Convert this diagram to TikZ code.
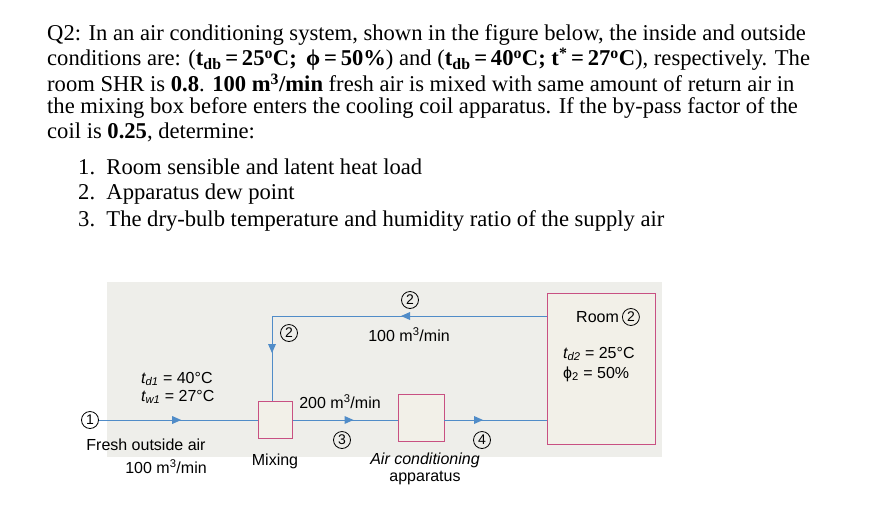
\documentclass[tikz,border=0pt]{standalone}
\usepackage{fontspec}
\setmainfont{Liberation Serif}
\newfontfamily\dsans{Liberation Sans}
\usetikzlibrary{decorations.markings}
\definecolor{flow}{RGB}{80,140,200}
\definecolor{boxc}{RGB}{200,80,130}
\definecolor{bfill}{RGB}{242,240,232}
\definecolor{bg}{RGB}{238,238,234}
\begin{document}
\begin{tikzpicture}[x=1pt,y=-1pt,
  flowline/.style={draw=flow,line width=0.9pt},
  midarrow/.style={postaction={decorate},decoration={markings,mark=at position #1 with {\fill[flow] (3,0)--(-6,-4)--(-6,4)--cycle;}}},
  unit/.style={draw=boxc,line width=1pt,fill=bfill},
  lab/.style={font=\dsans\fontsize{16}{17}\selectfont,inner sep=0pt},
  num/.style={circle,draw,line width=0.8pt,inner sep=0.8pt,minimum size=17pt,font=\dsans\fontsize{14}{14}\selectfont},
  qtext/.style={anchor=west,inner sep=0pt,font=\fontsize{22.6}{24}\selectfont}]
\useasboundingbox (0,0) rectangle (883,504);
\fill[white] (0,0) rectangle (883,504);
% question text
\node[qtext] (l1) at (47,35) {Q2: In an air conditioning system, shown in the figure below, the inside and outside};
\node[qtext] (l2) at (47,59) {conditions are: (\textbf{t\textsubscript{db}\,=\,25\textsuperscript{o}C;\, ϕ\,=\,50\%}) and (\textbf{t\textsubscript{db}\,=\,40\textsuperscript{o}C; t\textsuperscript{*}\,=\,27\textsuperscript{o}C}), respectively. The};
\node[qtext] (l3) at (47,83) {room SHR is \textbf{0.8}. \textbf{100 m\textsuperscript{3}/min} fresh air is mixed with same amount of return air in};
\node[qtext] (l4) at (47,108) {the mixing box before enters the cooling coil apparatus. If the by-pass factor of the};
\node[qtext] (l5) at (47,132) {coil is \textbf{0.25}, determine:};
\node[qtext] (i1) at (78,167) {1.\ \ Room sensible and latent heat load};
\node[qtext] (i2) at (78,194) {2.\ \ Apparatus dew point};
\node[qtext] (i3) at (78,221) {3.\ \ The dry-bulb temperature and humidity ratio of the supply air};
% background
\fill[bg] (107,282) rectangle (662,457);
% units
\node[unit,minimum width=34pt,minimum height=37pt,inner sep=0pt] (mix) at (275,420) {};
\node[unit,minimum width=46pt,minimum height=47pt,inner sep=0pt] (ac) at (421,418) {};
\node[unit,minimum width=108pt,minimum height=151pt,inner sep=0pt] (room) at (601,368.5) {};
\node[num] (n1) at (90,420) {1};
\coordinate (top) at (547,316);
\coordinate (corner) at (272,316);
\coordinate (bot) at (547,420);
\coordinate (aci) at (398,420);
\coordinate (aco) at (444,420);
% flows
\path[flowline,midarrow=0.5] (n1.east) -- (mix.west);
\path[flowline,midarrow=0.55] (mix.east) -- (aci);
\path[flowline,midarrow=0.35] (aco) -- (bot);
\path[flowline,midarrow=0.52] (top) -- (corner);
\path[flowline,midarrow=0.4] (corner) -- (corner |- mix.north);
% labels
\node[num] (n2a) at (410,300) {2};
\node[lab] (q1) at (409,335) {100 m\textsuperscript{3}/min};
\node[num] (n2b) at (289,333) {2};
\node[lab,anchor=west] (td1) at (141,379) {\textit{t\textsubscript{d1}} = 40°C};
\node[lab,anchor=west] (tw1) at (141,397) {\textit{t\textsubscript{w1}} = 27°C};
\node[lab] (q2) at (340,402) {200 m\textsuperscript{3}/min};
\node[num] (n3) at (342,440) {3};
\node[num] (n4) at (482,440) {4};
\node[lab] (fo) at (146,445) {Fresh outside air};
\node[lab] (q0) at (166,467) {100 m\textsuperscript{3}/min};
\node[lab] (mx) at (275,461) {Mixing};
\node[lab] (acl) at (425,460) {\itshape Air conditioning};
\node[lab] (app) at (425,478) {apparatus};
\node[lab,anchor=west] (rm) at (576,317) {Room};
\node[num,anchor=west] (n2c) at (622,317) {2};
\node[lab,anchor=west] (td2) at (563,354) {\textit{t\textsubscript{d2}} = 25°C};
\node[lab,anchor=west] (ph2) at (563,374) {ϕ\textsubscript{2} = 50\%};
\end{tikzpicture}
\end{document}
